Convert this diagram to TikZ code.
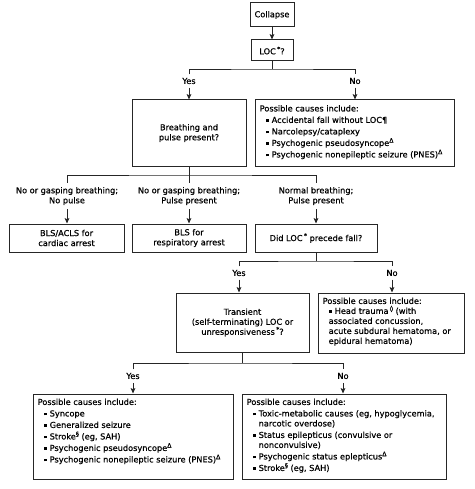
\documentclass[tikz,border=0pt]{standalone}
\usepackage{fontspec}
\setmainfont{DejaVu Sans}[FakeBold=0.6]
\usetikzlibrary{arrows.meta}
\newcommand\bul{\makebox[6pt][l]{\rule[1pt]{2.8pt}{2.8pt}}}
\newcommand\itm{\hspace*{6pt}\bul}
\newcommand\sps[1]{\raisebox{3.2pt}{\fontsize{6.2}{6}\selectfont #1}}
\begin{document}
\begin{tikzpicture}[x=1pt,y=-1pt,
  font=\fontsize{8.2}{10}\selectfont,
  box/.style={draw=black!85, line width=1pt, inner sep=0pt, align=center},
  lst/.style={inner sep=0pt, align=left, anchor=north west},
  lab/.style={inner sep=0pt, align=center},
  ln/.style={line width=0.8pt, draw=black!85},
  arr/.style={line width=0.8pt, draw=black!85, -{Stealth[length=5.5pt,width=4.8pt,inset=1.2pt]}}]
\useasboundingbox (0,0) rectangle (474,489);

% boxes
\node[box, minimum width=44pt, minimum height=24pt] (collapse) at (272,15) {Collapse};
\node[box, minimum width=42pt, minimum height=21pt] (loc) at (272,50.5) {LOC\,\sps{*}?};
\node[box, minimum width=114pt, minimum height=66pt] (breath) at (189,133) {Breathing and\\pulse present?};
\node[box, minimum width=199pt, minimum height=66pt] (c1) at (354.5,133) {};
\node[lst] (c1t) at ([xshift=5pt,yshift=-5.5pt]c1.north west) {Possible causes include:\\[1.5pt]
\itm Accidental fall without LOC¶\\[1.5pt]
\itm Narcolepsy/cataplexy\\[1.5pt]
\itm Psychogenic pseudosyncope\sps{Δ}\\[1.5pt]
\itm Psychogenic nonepileptic seizure (PNES)\sps{Δ}};

\node[box, minimum width=115pt, minimum height=28pt] (acls) at (66.5,238) {BLS/ACLS for\\cardiac arrest};
\node[box, minimum width=114pt, minimum height=28pt] (bls) at (189,238) {BLS for\\respiratory arrest};
\node[box, minimum width=122pt, minimum height=28pt] (did) at (316,238) {Did LOC\,\sps{*} precede fall?};

\node[box, minimum width=133pt, minimum height=59pt] (trans) at (242.5,322.5) {Transient\\(self-terminating) LOC or\\unresponsiveness\,\sps{*}?};
\node[box, minimum width=146pt, minimum height=60pt] (head) at (391,323) {};
\node[lst] (headt) at ([xshift=5pt,yshift=-5pt]head.north west) {Possible causes include:\\
\itm Head trauma\,\sps{◊} (with\\
\hspace*{6pt}associated concussion,\\
\hspace*{6pt}acute subdural hematoma, or\\
\hspace*{6pt}epidural hematoma)};

\node[box, minimum width=200pt, minimum height=85pt] (c3) at (133,436.5) {};
\node[lst] (c3t) at ([xshift=5pt,yshift=-5pt]c3.north west) {Possible causes include:\\[1.5pt]
\itm Syncope\\[1.5pt]
\itm Generalized seizure\\[1.5pt]
\itm Stroke\sps{§} (eg, SAH)\\[1.5pt]
\itm Psychogenic pseudosyncope\sps{Δ}\\[1.5pt]
\itm Psychogenic nonepileptic seizure (PNES)\sps{Δ}};

\node[box, minimum width=204pt, minimum height=85pt] (c4) at (344,436.5) {};
\node[lst] (c4t) at ([xshift=5pt,yshift=-5pt]c4.north west) {Possible causes include:\\[1.5pt]
\itm Toxic-metabolic causes (eg, hypoglycemia,\\
\hspace*{12pt}narcotic overdose)\\[1.5pt]
\itm Status epilepticus (convulsive or\\
\hspace*{12pt}nonconvulsive)\\[1.5pt]
\itm Psychogenic status eplepticus\sps{Δ}\\[1.5pt]
\itm Stroke\sps{§} (eg, SAH)};

% labels
\node[lab] (yes1) at (189,81) {Yes};
\node[lab] (no1) at (355,81) {No};
\node[lab] (l1) at (67,196) {No or gasping breathing;\\No pulse};
\node[lab] (l2) at (189,196) {No or gasping breathing;\\Pulse present};
\node[lab] (l3) at (316,196) {Normal breathing;\\Pulse present};
\node[lab] (yes2) at (239,273) {Yes};
\node[lab] (no2) at (392,273) {No};
\node[lab] (yes3) at (133,376) {Yes};
\node[lab] (no3) at (343,376) {No};

\coordinate (b1) at (272,69);
\coordinate (b2) at (189,175);
\coordinate (b3) at (316,261);
\coordinate (b4) at (242.5,363);

% connectors
\draw[arr] (collapse) -- (loc);

\draw[ln] (loc.south) -- (b1);
\draw[ln] ([yshift=3.5pt]yes1.north) |- (b1) -| ([yshift=3.5pt]no1.north);
\draw[arr] ([yshift=-3.5pt]yes1.south) -- (breath.north);
\draw[arr] ([yshift=-3.5pt]no1.south) -- (c1.north -| no1.south);

\draw[ln] (breath.south) -- (b2);
\draw[ln] ([yshift=4pt]l1.north) |- (b2) -| ([yshift=4pt]l3.north);
\draw[ln] (b2) -- ([yshift=4pt]l2.north);
\draw[arr] ([yshift=-4pt]l1.south) -- (acls.north -| l1.south);
\draw[arr] ([yshift=-4pt]l2.south) -- (bls.north);
\draw[arr] ([yshift=-4pt]l3.south) -- (did.north);

\draw[ln] (did.south) -- (b3);
\draw[ln] ([yshift=3.5pt]yes2.north) |- (b3) -| ([yshift=3.5pt]no2.north);
\draw[arr] ([yshift=-3.5pt]yes2.south) -- (trans.north -| yes2.south);
\draw[arr] ([yshift=-3.5pt]no2.south) -- (head.north -| no2.south);

\draw[ln] (trans.south) -- (b4);
\draw[ln] ([yshift=3.5pt]yes3.north) |- (b4) -| ([yshift=3.5pt]no3.north);
\draw[arr] ([yshift=-3.5pt]yes3.south) -- (c3.north -| yes3.south);
\draw[arr] ([yshift=-3.5pt]no3.south) -- (c4.north -| no3.south);
\end{tikzpicture}
\end{document}
